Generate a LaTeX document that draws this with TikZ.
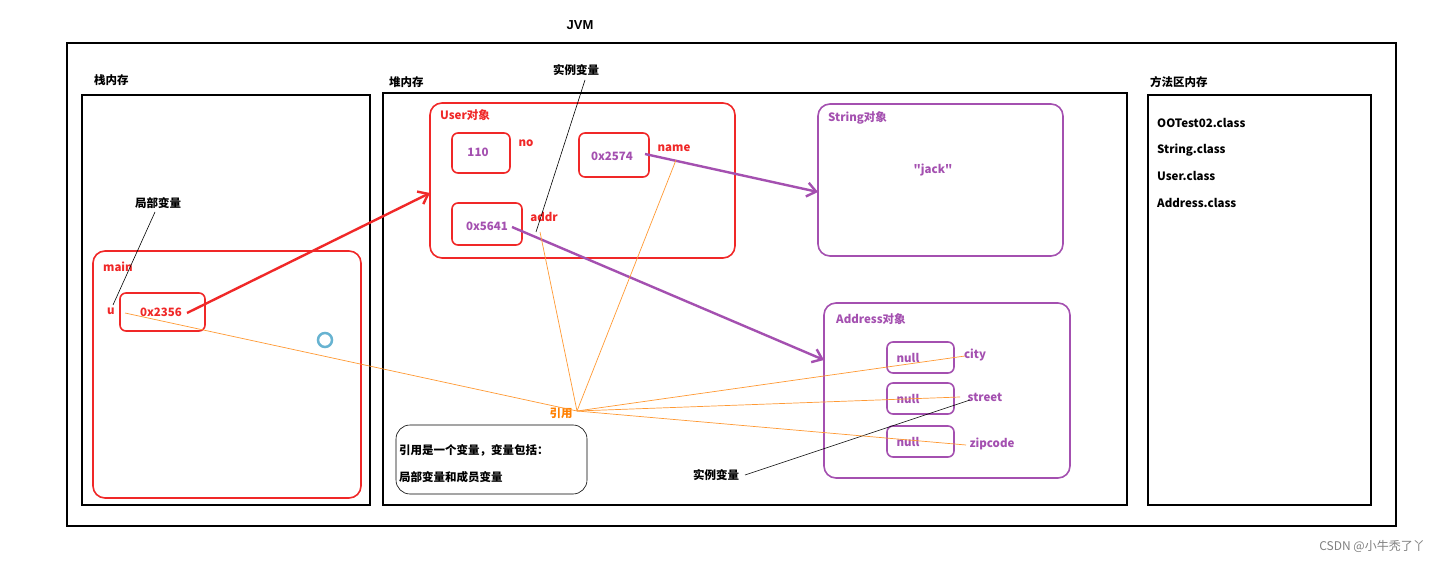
\documentclass[tikz,border=0pt]{standalone}
\usepackage{fontspec}
\usetikzlibrary{arrows.meta}
\setmainfont{Liberation Sans}
\newfontfamily\cjk{Noto Sans CJK SC}
\definecolor{pc}{HTML}{A450B0}
\definecolor{rc}{HTML}{F02828}
\begin{document}
\begin{tikzpicture}[x=1pt,y=-1pt,
 lbl/.style={font=\cjk\bfseries\fontsize{11.5}{13}\selectfont,inner sep=0pt},
 red/.style={draw=rc,line width=1.6pt,rounded corners=12pt},
 pur/.style={draw=pc,line width=1.6pt,rounded corners=12pt},
 blk/.style={draw=black,line width=1.8pt},
 ref/.style={draw=orange!80,line width=0.7pt},
 note/.style={draw=black,line width=0.6pt}]
\fill[white] (0,0) rectangle (1444,564);
\useasboundingbox (0,0) rectangle (1444,564);
\node[lbl,font=\bfseries\fontsize{13}{15}\selectfont] (jvm) at (580,25) {JVM};
\draw[blk] (67,43) rectangle (1396,526);
\node[lbl,anchor=west] (stl) at (94,80) {栈内存};
\draw[blk] (82,95) rectangle (370,505);
\node[lbl,anchor=west] (hpl) at (389,82) {堆内存};
\draw[blk] (383,93) rectangle (1127,505);
\node[lbl,anchor=west] (mal) at (1150,82) {方法区内存};
\draw[blk] (1148,95) rectangle (1371,505);
\foreach \t/\y [count=\i] in {OOTest02.class/123,String.class/150,User.class/176,Address.class/203}
 \node[lbl,anchor=west] (c\i) at (1157,\y) {\t};
% stack
\draw[red] (93,251) rectangle (361,498);
\node[lbl,anchor=west,text=rc] (mainl) at (103,267) {main};
\node[lbl,text=rc] (u) at (111,311) {u};
\draw[red,rounded corners=6pt] (120,293) rectangle (205,331);
\node[lbl,text=rc] (p1) at (161,312) {0x2356};
\node[lbl] (jb) at (158,203) {局部变量};
\draw[note] (155,212) -- (113,305);
\draw[cyan!50!teal!70,line width=2.5pt] (325,340) circle (7);
% user
\draw[red] (430,103) rectangle (735,258);
\node[lbl,anchor=west,text=rc] (ul) at (440,115) {User对象};
\draw[red,rounded corners=6pt] (452,133) rectangle (510,173);
\node[lbl,text=pc] (no) at (478,152) {110};
\node[lbl,text=rc] (nol) at (526,143) {no};
\draw[red,rounded corners=6pt] (579,133) rectangle (649,177);
\node[lbl,text=pc] (nm) at (612,156) {0x2574};
\node[lbl,text=rc] (nml) at (674,148) {name};
\draw[red,rounded corners=6pt] (452,203) rectangle (522,245);
\node[lbl,text=pc] (ad) at (487,226) {0x5641};
\node[lbl,text=rc] (adl) at (544,217) {addr};
% string
\draw[pur] (818,104) rectangle (1063,256);
\node[lbl,anchor=west,text=pc] (sl) at (828,118) {String对象};
\node[lbl,text=pc] (jack) at (933,170) {"jack"};
% address
\draw[pur] (824,303) rectangle (1070,478);
\node[lbl,anchor=west,text=pc] (al) at (836,319) {Address对象};
\foreach \y [count=\i] in {342,383,426}{
 \draw[pur,rounded corners=6pt] (887,\y) rectangle (954,\y+31);
 \node[lbl,text=pc] (n\i) at (908,\y+16) {null};}
\node[lbl,text=pc] (city) at (975,355) {city};
\node[lbl,text=pc] (street) at (985,397) {street};
\node[lbl,text=pc] (zip) at (992,444) {zipcode};
% arrows
\coordinate (ra) at (187,313); \coordinate (rb) at (430,193);
\draw[rc,line width=2.4pt,-{Straight Barb[length=9pt,width=14pt]}] (ra) -- (rb);
\coordinate (pa) at (645,154); \coordinate (pb) at (818,192);
\draw[pc,line width=2.4pt,-{Straight Barb[length=9pt,width=14pt]}] (pa) -- (pb);
\coordinate (qa) at (512,227); \coordinate (qb) at (824,360);
\draw[pc,line width=2.4pt,-{Straight Barb[length=9pt,width=14pt]}] (qa) -- (qb);
% instance var labels
\node[lbl] (sl1) at (576,70) {实例变量};
\draw[note] (585,80) -- (536,232);
\node[lbl] (sl2) at (716,475) {实例变量};
\draw[note] (745,475) -- (970,400);
% reference
\node[lbl,text=orange] (yy) at (561,413) {引用};
\coordinate (y0) at (577,411);
\foreach \p in {(125,313),(540,232),(676,160),(965,356),(960,397),(966,445)}
 \draw[ref] (y0) -- \p;
\draw[note,rounded corners=14pt] (396,425) rectangle (587,494);
\node[lbl,anchor=west] (t1) at (399,450) {引用是一个变量，变量包括：};
\node[lbl,anchor=west] (t2) at (399,477) {局部变量和成员变量};
\node[lbl,font=\cjk\fontsize{12}{14}\selectfont,text=gray,anchor=east] (wm) at (1425,546) {CSDN @小牛秃了丫};
\end{tikzpicture}
\end{document}
